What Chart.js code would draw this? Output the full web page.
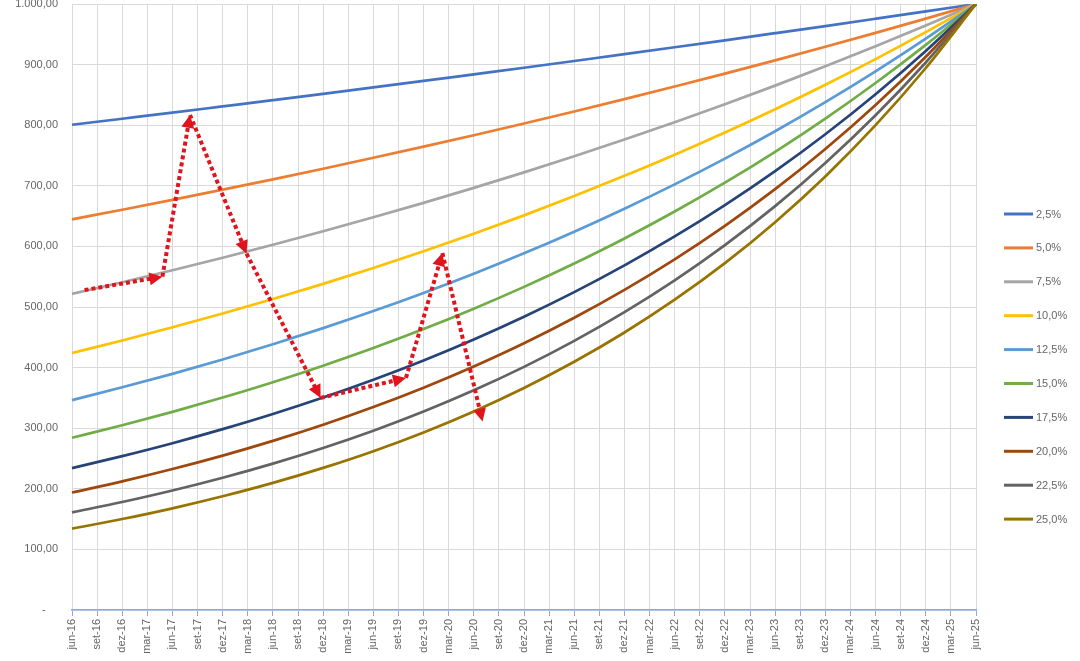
<!DOCTYPE html>
<html>
<head>
<meta charset="utf-8">
<script src="https://cdn.jsdelivr.net/npm/chart.js@4/dist/chart.umd.min.js"></script>
<style>
  html, body { margin: 0; padding: 0; background: #ffffff; }
  canvas { display: block; }
</style>
</head>
<body>
<canvas id="c" width="1080" height="661"></canvas>
<script>
// Quarterly tick labels on the x axis
const quarters = ['jun-16','set-16','dez-16','mar-17','jun-17','set-17','dez-17','mar-18','jun-18','set-18','dez-18',
  'mar-19','jun-19','set-19','dez-19','mar-20','jun-20','set-20','dez-20','mar-21','jun-21','set-21','dez-21',
  'mar-22','jun-22','set-22','dez-22','mar-23','jun-23','set-23','dez-23','mar-24','jun-24','set-24','dez-24',
  'mar-25','jun-25'];

// Dates at which the series values were read (every half year)
const pointDates = ['jun-16','dez-16','jun-17','dez-17','jun-18','dez-18','jun-19','dez-19','jun-20','dez-20',
  'jun-21','dez-21','jun-22','dez-22','jun-23','dez-23','jun-24','dez-24','jun-25'];

const seriesNames = ['2,5%','5,0%','7,5%','10,0%','12,5%','15,0%','17,5%','20,0%','22,5%','25,0%'];

const rate2_5  = [800.7, 810.7, 820.7, 831.0, 841.3, 851.7, 862.3, 873.0, 883.9, 894.8, 906.0, 917.2, 928.6, 940.1, 951.8, 963.6, 975.6, 987.7, 1000];
const rate5_0  = [644.6, 660.5, 676.8, 693.6, 710.7, 728.2, 746.2, 764.6, 783.5, 802.9, 822.7, 843.0, 863.8, 885.2, 907.0, 929.4, 952.4, 975.9, 1000];
const rate7_5  = [521.6, 540.8, 560.7, 581.3, 602.8, 624.9, 648.0, 671.8, 696.6, 722.2, 748.8, 776.4, 805.0, 834.6, 865.3, 897.2, 930.2, 964.5, 1000];
const rate10_0 = [424.1, 444.8, 466.5, 489.3, 513.2, 538.2, 564.5, 592.0, 620.9, 651.2, 683.0, 716.4, 751.3, 788.0, 826.4, 866.8, 909.1, 953.5, 1000];
const rate12_5 = [346.4, 367.5, 389.7, 413.4, 438.5, 465.1, 493.3, 523.2, 554.9, 588.6, 624.3, 662.2, 702.3, 744.9, 790.1, 838.1, 888.9, 942.8, 1000];
const rate15_0 = [284.3, 304.8, 326.9, 350.6, 375.9, 403.2, 432.3, 463.6, 497.2, 533.2, 571.8, 613.1, 657.5, 705.1, 756.1, 810.9, 869.6, 932.5, 1000];
const rate17_5 = [234.2, 253.9, 275.2, 298.4, 323.4, 350.6, 380.0, 411.9, 446.5, 484.0, 524.6, 568.7, 616.4, 668.2, 724.3, 785.1, 851.1, 922.5, 1000];
const rate20_0 = [193.8, 212.3, 232.6, 254.8, 279.1, 305.7, 334.9, 366.9, 401.9, 440.2, 482.3, 528.3, 578.7, 633.9, 694.4, 760.7, 833.3, 912.9, 1000];
const rate22_5 = [161.0, 178.2, 197.2, 218.3, 241.6, 267.4, 295.9, 327.5, 362.5, 401.2, 444.1, 491.5, 544.0, 602.1, 666.4, 737.6, 816.3, 903.5, 1000];
const rate25_0 = [134.2, 150.1, 167.8, 187.6, 209.7, 234.5, 262.1, 293.1, 327.7, 366.4, 409.6, 457.9, 512.0, 572.4, 640.0, 715.5, 800.0, 894.4, 1000];

const yTicks = [0, 100, 200, 300, 400, 500, 600, 700, 800, 900, 1000];

// Red dotted arrow annotation: vertices in data units (quarter index, value)
const arrowX = [0.5, 3.6, 4.7, 6.95, 9.9, 13.3, 14.75, 16.35];
const arrowY = [528, 550, 817, 588, 350, 383, 589, 311];

const allSeries = [rate2_5, rate5_0, rate7_5, rate10_0, rate12_5, rate15_0, rate17_5, rate20_0, rate22_5, rate25_0];
const colors = ['#4472C4','#ED7D31','#A5A5A5','#FFC000','#5B9BD5','#70AD47','#264478','#9E480E','#636363','#997300'];

function fmtBR(v) {
  if (v === 0) return '-    ';
  const parts = v.toFixed(2).split('.');
  const intPart = parts[0].replace(/\B(?=(\d{3})+(?!\d))/g, '.');
  return intPart + ',' + parts[1];
}

const datasets = allSeries.map((vals, i) => ({
  label: seriesNames[i],
  data: pointDates.map((d, j) => ({ x: d, y: vals[j] })),
  borderColor: colors[i],
  backgroundColor: colors[i],
  borderWidth: 2.7,
  pointRadius: 0,
  cubicInterpolationMode: 'monotone',
  order: 10 - i
}));

const arrowPlugin = {
  id: 'arrows',
  afterDatasetsDraw(chart) {
    const ctx = chart.ctx;
    const xs = chart.scales.x, ys = chart.scales.y;
    const pts = arrowX.map((x, i) => ({ x: xs.getPixelForValue(x), y: ys.getPixelForValue(arrowY[i]) }));
    const red = '#e0141d';
    const headLen = 13, headHalf = 6.5;
    ctx.save();
    for (let i = 0; i < pts.length - 1; i++) {
      const a = pts[i], b = pts[i + 1];
      const dx = b.x - a.x, dy = b.y - a.y;
      const len = Math.hypot(dx, dy);
      const ux = dx / len, uy = dy / len;
      const bx = b.x - ux * (headLen - 2), by = b.y - uy * (headLen - 2);
      ctx.beginPath();
      ctx.setLineDash([4, 3]);
      ctx.lineWidth = 4;
      ctx.strokeStyle = red;
      ctx.moveTo(a.x, a.y);
      ctx.lineTo(bx, by);
      ctx.stroke();
      ctx.setLineDash([]);
      const baseX = b.x - ux * headLen, baseY = b.y - uy * headLen;
      ctx.beginPath();
      ctx.moveTo(b.x, b.y);
      ctx.lineTo(baseX - uy * headHalf, baseY + ux * headHalf);
      ctx.lineTo(baseX + uy * headHalf, baseY - ux * headHalf);
      ctx.closePath();
      ctx.fillStyle = red;
      ctx.fill();
    }
    ctx.restore();
  }
};

const legendPlugin = {
  id: 'sideLegend',
  afterDraw(chart) {
    const ctx = chart.ctx;
    ctx.save();
    ctx.font = '11px "Liberation Sans", Arial, sans-serif';
    ctx.textBaseline = 'middle';
    ctx.textAlign = 'left';
    chart.data.datasets.forEach((ds, i) => {
      const y = 214 + i * 33.9;
      ctx.beginPath();
      ctx.strokeStyle = ds.borderColor;
      ctx.lineWidth = 3;
      ctx.moveTo(1004, y);
      ctx.lineTo(1033, y);
      ctx.stroke();
      ctx.fillStyle = '#666666';
      ctx.fillText(ds.label, 1036, y + 0.5);
    });
    ctx.restore();
  }
};

const bgPlugin = {
  id: 'bg',
  beforeDraw(chart) {
    const ctx = chart.ctx;
    ctx.save();
    ctx.fillStyle = '#ffffff';
    ctx.fillRect(0, 0, chart.width, chart.height);
    ctx.restore();
  }
};

new Chart(document.getElementById('c'), {
  type: 'line',
  data: { labels: quarters, datasets: datasets },
  plugins: [bgPlugin, arrowPlugin, legendPlugin],
  options: {
    responsive: false,
    devicePixelRatio: 1,
    animation: false,
    layout: { padding: { left: 0, right: 104, top: 0, bottom: 0 } },
    plugins: { legend: { display: false }, tooltip: { enabled: false } },
    scales: {
      x: {
        type: 'category',
        offset: false,
        grid: { color: '#d9d9d9', tickColor: '#8eaadb', tickLength: 6, lineWidth: 1 },
        border: { color: '#8eaadb', width: 1.5 },
        ticks: {
          autoSkip: false, minRotation: 90, maxRotation: 90, padding: 3,
          color: '#666666', font: { family: '"Liberation Sans", Arial, sans-serif', size: 11 }
        },
        afterFit(scale) { scale.height = 51; }
      },
      y: {
        min: 0, max: 1000,
        afterBuildTicks(scale) { scale.ticks = yTicks.map(v => ({ value: v })); },
        grid: { color: '#d9d9d9', drawTicks: false, lineWidth: 1 },
        border: { display: false },
        ticks: {
          padding: 14, color: '#666666',
          font: { family: '"Liberation Sans", Arial, sans-serif', size: 11 },
          callback: (v) => fmtBR(v)
        },
        afterFit(scale) { scale.width = 72; scale.paddingTop = 4; scale.paddingBottom = 4; }
      }
    }
  }
});
</script>
</body>
</html>
